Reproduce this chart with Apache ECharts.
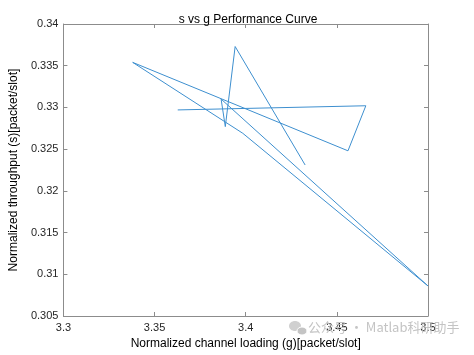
<!DOCTYPE html>
<html><head><meta charset="utf-8">
<script src="https://cdn.jsdelivr.net/npm/echarts@6/dist/echarts.min.js"></script>
<style>html,body{margin:0;padding:0;background:#fff}#c{width:474px;height:355px}</style>
</head><body><div id="c"></div>
<script>
// Data (path order)
const gValues = [3.3627, 3.4659, 3.4561, 3.3380, 3.3984, 3.5000, 3.3865, 3.3888, 3.3942, 3.4326];
const sValues = [0.3297, 0.3302, 0.3248, 0.3354, 0.3269, 0.3086, 0.3310, 0.3277, 0.3373, 0.3231];
const xTicks = [3.3, 3.35, 3.4, 3.45, 3.5];
const yTicks = [0.305, 0.31, 0.315, 0.32, 0.325, 0.33, 0.335, 0.34];

const pts = gValues.map((g, i) => [g, sValues[i]]);
const font = 'Liberation Sans, Arial, sans-serif';
const axisCol = '#8c8c8c';
const txtCol = '#262626';

const chart = echarts.init(document.getElementById('c'));
const baseAxis = {
  type: 'value',
  axisLine: { show: true, onZero: false, lineStyle: { color: axisCol, width: 1 } },
  axisTick: { show: true, inside: true, length: 4, lineStyle: { color: axisCol } },
  splitLine: { show: false }
};
chart.setOption({
  animation: false,
  title: {
    text: 's vs g Performance Curve', left: 243, textAlign: 'center', top: 9,
    textStyle: { fontFamily: font, fontSize: 12, fontWeight: 'normal', color: '#000' }
  },
  grid: { left: 58, right: 46, top: 24, bottom: 38.5 },
  xAxis: [
    Object.assign({}, baseAxis, {
      min: xTicks[0], max: xTicks[xTicks.length - 1], interval: 0.05, position: 'bottom',
      name: 'Normalized channel loading (g)[packet/slot]', nameLocation: 'middle', nameGap: 22,
      nameTextStyle: { fontFamily: font, fontSize: 12, color: '#000' },
      axisLabel: { fontFamily: font, fontSize: 11, color: txtCol, margin: 6 }
    }),
    Object.assign({}, baseAxis, {
      min: xTicks[0], max: xTicks[xTicks.length - 1], interval: 0.05, position: 'top',
      axisLabel: { show: false }
    })
  ],
  yAxis: [
    Object.assign({}, baseAxis, {
      min: yTicks[0], max: yTicks[yTicks.length - 1], interval: 0.005, position: 'left',
      name: 'Normalized throughput (s)[packet/slot]', nameLocation: 'middle', nameGap: 37,
      nameTextStyle: { fontFamily: font, fontSize: 12, color: '#000' },
      axisLabel: { fontFamily: font, fontSize: 11, color: txtCol, margin: 5 }
    }),
    Object.assign({}, baseAxis, {
      min: yTicks[0], max: yTicks[yTicks.length - 1], interval: 0.005, position: 'right',
      axisLabel: { show: false }
    })
  ],
  series: [{
    type: 'line', data: pts, showSymbol: false, symbol: 'none', clip: true,
    lineStyle: { color: '#3d8fcf', width: 1 }
  }],
  graphic: [
    { type: 'ellipse', shape: { cx: 295, cy: 326, rx: 6, ry: 5 }, style: { fill: '#d0d0d0' }, z: 10 },
    { type: 'ellipse', shape: { cx: 302, cy: 331, rx: 5, ry: 4 }, style: { fill: '#c4c4c4', stroke: '#fff', lineWidth: 1 }, z: 11 },
    {
      type: 'text', left: 308, top: 321, z: 10,
      style: { text: '公众号 · Matlab科研助手', fill: '#c4c4c4', fontSize: 13, fontFamily: 'Noto Sans CJK SC, sans-serif' }
    }
  ]
});
</script></body></html>
